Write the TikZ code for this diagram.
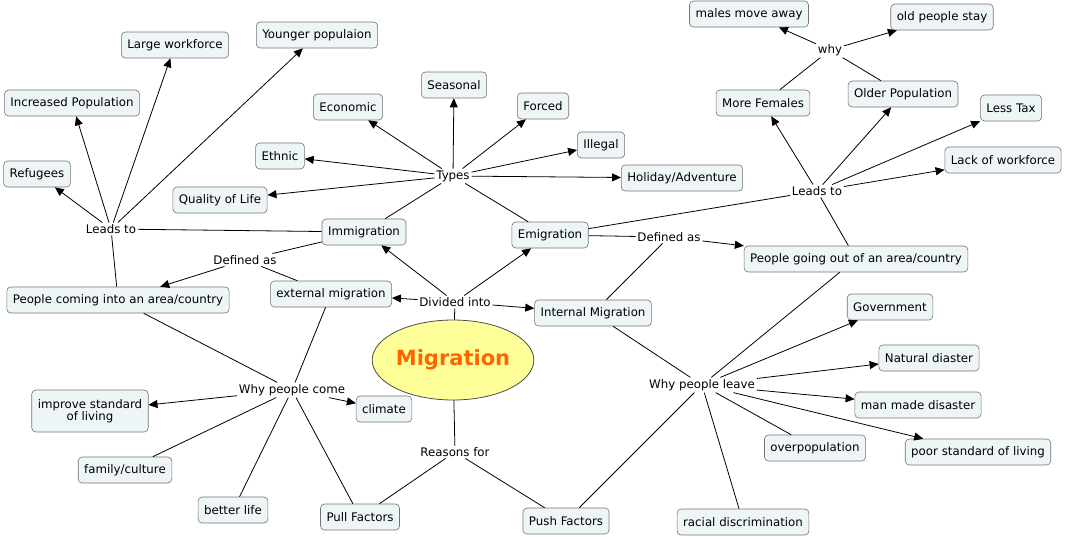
\documentclass[tikz,border=0pt]{standalone}
\usepackage{fontspec}
\setmainfont{DejaVu Sans}
\usetikzlibrary{arrows.meta,shapes.geometric}
\definecolor{boxfill}{RGB}{238,245,246}
\definecolor{migfill}{RGB}{255,255,153}
\definecolor{migtext}{RGB}{255,102,0}
\begin{document}
\begin{tikzpicture}[x=1pt,y=-1pt,line width=0.8pt,
  every node/.style={font=\fontsize{11.8}{13.5}\selectfont},
  box/.style={draw=black!55,line width=0.6pt,fill=boxfill,rounded corners=4pt,inner xsep=6pt,minimum height=26pt,align=center},
  lab/.style={fill=white,inner sep=1.5pt},
  ar/.style={-{Triangle[length=9pt,width=8pt]}}]
\useasboundingbox (0,0) rectangle (1067,536);
% nodes
\node[ellipse,draw=black!70,fill=migfill,minimum width=156pt,minimum height=80pt,inner sep=0pt,font=\bfseries\fontsize{21}{24}\selectfont,text=migtext] (mig) at (453,360) {Migration};
\node[box] (imm) at (364,232) {Immigration};
\node[box] (emi) at (550,235) {Emigration};
\node[box] (int) at (593,313) {Internal Migration};
\node[box] (ext) at (331,294) {external migration};
\node[lab] (div) at (455,302) {Divided into};
\node[lab] (types) at (453,176) {Types};
\node[box] (eco) at (348,107) {Economic};
\node[box] (sea) at (454,85) {Seasonal};
\node[box] (for) at (543,106) {Forced};
\node[box] (ill) at (601,145) {Illegal};
\node[box] (hol) at (682,178) {Holiday/Adventure};
\node[box] (eth) at (280,156) {Ethnic};
\node[box] (qol) at (220,200) {Quality of Life};
\node[lab] (defl) at (245,260) {Defined as};
\node[box] (pci) at (118,300) {People coming into an area/country};
\node[lab] (leadl) at (111,229) {Leads to};
\node[box] (ref) at (37,174) {Refugees};
\node[box] (inc) at (72,103) {Increased Population};
\node[box] (lwf) at (175,45) {Large workforce};
\node[box] (you) at (317,35) {Younger populaion};
\node[lab] (wpc) at (292,390) {Why people come};
\node[box,minimum height=42pt] (isl) at (90,411) {improve standard\\[-1pt]of living};
\node[box] (cli) at (384,409) {climate};
\node[box] (fam) at (125,470) {family/culture};
\node[box] (bet) at (233,510) {better life};
\node[box] (pul) at (360,517) {Pull Factors};
\node[lab] (rea) at (455,452) {Reasons for};
\node[box] (pus) at (566,521) {Push Factors};
\node[lab] (defr) at (669,237) {Defined as};
\node[box] (pgo) at (856,259) {People going out of an area/country};
\node[lab] (leadr) at (817,191) {Leads to};
\node[box] (mfe) at (763,103) {More Females};
\node[box] (old) at (903,94) {Older Population};
\node[box] (tax) at (1011,108) {Less Tax};
\node[box] (law) at (1003,160) {Lack of workforce};
\node[lab] (why) at (830,50) {why};
\node[box] (mma) at (749,14) {males move away};
\node[box] (ops) at (942,17) {old people stay};
\node[lab] (wpl) at (702,385) {Why people leave};
\node[box] (gov) at (890,307) {Government};
\node[box] (nat) at (929,358) {Natural diaster};
\node[box] (mmd) at (918,405) {man made disaster};
\node[box] (psl) at (978,452) {poor standard of living};
\node[box] (ovp) at (815,448) {overpopulation};
\node[box] (rac) at (743,522) {racial discrimination};
% edges
\draw (mig) -- (div);
\draw[ar] (div) -- (imm);
\draw[ar] (div) -- (emi);
\draw[ar] (div) -- (ext);
\draw[ar] (div) -- (int);
\draw (imm) -- (types);
\draw (emi) -- (types);
\foreach \t in {eco,sea,for,ill,hol,eth,qol} \draw[ar] (types) -- (\t);
\draw (imm) -- (defl);
\draw (ext) -- (defl);
\draw[ar] (defl) -- (pci);
\draw (imm) -- (leadl);
\draw (pci) -- (leadl);
\foreach \t in {ref,inc,lwf,you} \draw[ar] (leadl) -- (\t);
\draw (emi) -- (defr);
\draw (int) -- (defr);
\draw[ar] (defr) -- (pgo);
\draw (emi) -- (leadr);
\draw (pgo) -- (leadr);
\foreach \t in {mfe,old,tax,law} \draw[ar] (leadr) -- (\t);
\draw (mfe) -- (why);
\draw (old) -- (why);
\draw[ar] (why) -- (mma);
\draw[ar] (why) -- (ops);
\draw (pci) -- (wpc);
\draw (ext) -- (wpc);
\draw[ar] (wpc) -- (isl);
\draw[ar] (wpc) -- (cli);
\draw (wpc) -- (fam);
\draw (wpc) -- (bet);
\draw (wpc) -- (pul);
\draw (mig) -- (rea);
\draw (rea) -- (pul);
\draw (rea) -- (pus);
\draw (int) -- (wpl);
\draw (pgo) -- (wpl);
\foreach \t in {gov,nat,mmd,psl} \draw[ar] (wpl) -- (\t);
\draw (wpl) -- (ovp);
\draw (wpl) -- (rac);
\draw (wpl) -- (pus);
\end{tikzpicture}
\end{document}
